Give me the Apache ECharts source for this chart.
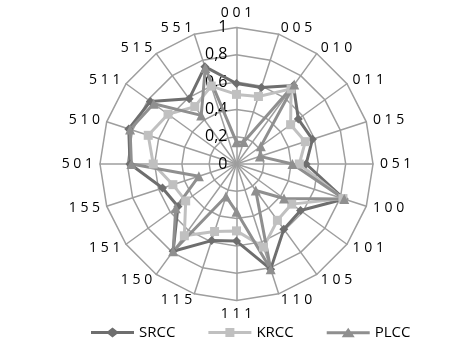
<!DOCTYPE html>
<html><head><meta charset="utf-8">
<script src="https://cdn.jsdelivr.net/npm/echarts@6/dist/echarts.min.js"></script>
<style>html,body{margin:0;padding:0;background:#fff}#c{width:474px;height:340px}</style>
</head><body><div id="c"></div>
<script>
var categories = ['0 0 1','0 0 5','0 1 0','0 1 1','0 1 5','0 5 1','1 0 0','1 0 1','1 0 5','1 1 0','1 1 1','1 1 5','1 5 0','1 5 1','1 5 5','5 0 1','5 1 0','5 1 1','5 1 5','5 5 1'];
var srcc = [0.59,0.59,0.71,0.56,0.585,0.51,0.83,0.58,0.59,0.81,0.565,0.59,0.79,0.53,0.57,0.78,0.83,0.78,0.59,0.75];
var krcc = [0.51,0.52,0.68,0.49,0.53,0.46,0.82,0.50,0.51,0.64,0.49,0.52,0.65,0.46,0.49,0.61,0.68,0.62,0.52,0.60];
var plcc = [0.16,0.17,0.72,0.22,0.18,0.41,0.83,0.43,0.24,0.81,0.35,0.25,0.79,0.55,0.29,0.77,0.82,0.75,0.44,0.74];
var seriesNames = ['SRCC','KRCC','PLCC'];
var axisMax = 1;

// ECharts radar runs counter-clockwise; reorder to get clockwise layout
function cw(arr){ var out=[arr[0]]; for(var i=arr.length-1;i>0;i--) out.push(arr[i]); return out; }

var indicators = cw(categories).map(function(n,i){
  var o = {name:n, min:0, max:axisMax};
  if(i===0) o.axisLabel = {show:true};
  return o;
});

var icons = {
  SRCC:'path://M0,3.5L17,3.5L21.5,0L26,3.5L43,3.5L43,6.5L26,6.5L21.5,10L17,6.5L0,6.5Z',
  KRCC:'path://M0,3.5L17,3.5L17,0.5L26,0.5L26,3.5L43,3.5L43,6.5L26,6.5L26,9.5L17,9.5L17,6.5L0,6.5Z',
  PLCC:'path://M0,3.5L19.1,3.5L21.5,0L23.9,3.5L43,3.5L43,6.5L26,6.5L28,9.5L15,9.5L17,6.5L0,6.5Z'
};
var colors = {SRCC:'#6e6e6e', KRCC:'#c0c0c0', PLCC:'#8f8f8f'};

var chart = echarts.init(document.getElementById('c'));
chart.setOption({
  animation:false,
  backgroundColor:'#fff',
  legend:{
    top: 325, left: 91, padding: 0, itemGap: 33, itemWidth: 43, itemHeight: 10,
    textStyle:{fontFamily:'Open Sans', fontSize:15, color:'#000'},
    data: seriesNames.map(function(n){return {name:n, icon:icons[n]};})
  },
  radar:{
    center:[236.5,164], radius:136.5, startAngle:90, shape:'polygon', splitNumber:5,
    axisName:{color:'#000', fontFamily:'Open Sans', fontSize:14},
    nameGap: 7,
    splitLine:{lineStyle:{color:'#9e9e9e', width:1.5}},
    splitArea:{show:false},
    axisLine:{lineStyle:{color:'#9e9e9e', width:1.5}},
    axisTick:{show:false},
    axisLabel:{show:false, color:'#000', fontFamily:'Open Sans', fontSize:16, margin:9,
      formatter:function(v){return String(+v.toFixed(1)).replace('.',',');}},
    indicator: indicators
  },
  series:[{
    type:'radar',
    data:[
      {name:'SRCC', value:cw(srcc), symbol:'diamond', symbolSize:9,
        lineStyle:{color:colors.SRCC, width:3}, itemStyle:{color:colors.SRCC}},
      {name:'KRCC', value:cw(krcc), symbol:'rect', symbolSize:9,
        lineStyle:{color:colors.KRCC, width:3}, itemStyle:{color:colors.KRCC}},
      {name:'PLCC', value:cw(plcc), symbol:'triangle', symbolSize:10,
        lineStyle:{color:colors.PLCC, width:3}, itemStyle:{color:colors.PLCC}}
    ]
  }]
});
</script>
</body></html>
